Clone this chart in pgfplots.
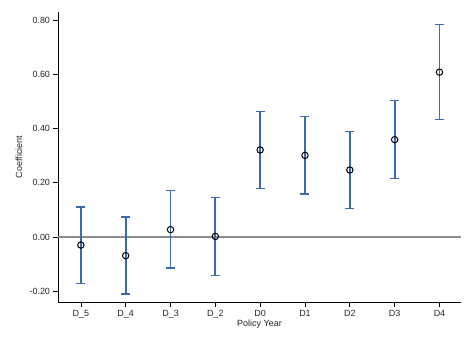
\documentclass[border=0pt]{standalone}
\usepackage{pgfplots}
\pgfplotsset{compat=1.18}
\usepackage{pgfplotstable}
\usepackage{fontspec}
\setmainfont{Liberation Sans}

\definecolor{barblue}{RGB}{60,106,176}
\definecolor{zerogray}{RGB}{140,140,140}

% event-study estimates: position, coefficient, distance to upper and lower CI bound
\pgfplotstableread{
x  y       ep     em
0  -0.030  0.141  0.143
1  -0.069  0.143  0.142
2   0.027  0.144  0.142
3   0.002  0.144  0.143
4   0.321  0.143  0.142
5   0.301  0.143  0.142
6   0.247  0.143  0.143
7   0.359  0.144  0.143
8   0.608  0.176  0.175
}\coefs

\begin{document}
\begin{tikzpicture}
\useasboundingbox (-58bp,-42bp) rectangle (416bp,302bp);
\begin{axis}[
  at={(0,0)}, anchor=south west,
  scale only axis,
  width=403bp, height=290bp,
  xmin=-0.51, xmax=8.48,
  ymin=-0.24, ymax=0.83,
  axis x line*=bottom, axis y line*=left,
  axis line style={line width=0.9bp, black},
  tick align=outside,
  major tick length=4.5bp,
  tick style={line width=0.7bp, black},
  xtick={0,...,8},
  xticklabels={D\_5,D\_4,D\_3,D\_2,D0,D1,D2,D3,D4},
  ytick={-0.2,0,0.2,0.4,0.6,0.8},
  /pgf/number format/assume math mode=true,
  yticklabel style={/pgf/number format/fixed,/pgf/number format/fixed zerofill,/pgf/number format/precision=2},
  ticklabel style={font=\fontsize{9}{10}\selectfont, text=black!85},
  label style={font=\fontsize{9}{10}\selectfont, text=black!85},
  xlabel={Policy Year},
  ylabel={Coefficient},
  xlabel style={at={(axis description cs:0.5,-0.076)}, anchor=center},
  ylabel style={at={(axis description cs:-0.097,0.5)}, anchor=center, rotate=0},
  clip=false,
]
\addplot[zerogray, line width=1.2bp, forget plot] coordinates {(-0.51,0) (8.48,0)};
% confidence intervals
\addplot[
  draw=none,
  mark=none,
  error bars/.cd,
    y dir=both, y explicit,
    error mark=-,
    error bar style={draw=barblue, line width=1.8bp},
    error mark options={rotate=90, draw=barblue, line width=1.3bp, mark size=4.5bp},
] table[x=x, y=y, y error plus=ep, y error minus=em] {\coefs};
% point estimates
\addplot[
  only marks,
  mark=o,
  mark size=3.2bp,
  mark options={draw=black, line width=1bp, fill=white},
] table[x=x, y=y] {\coefs};
\end{axis}
\end{tikzpicture}
\end{document}
